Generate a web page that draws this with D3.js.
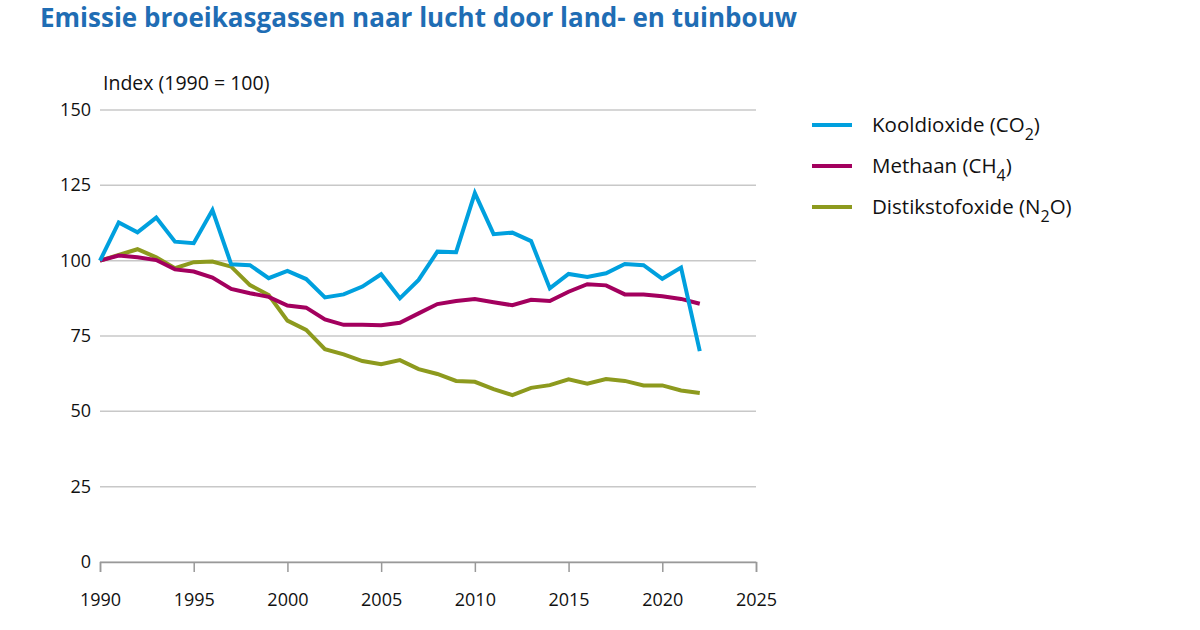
<!DOCTYPE html>
<html>
<head>
<meta charset="utf-8">
<script src="https://cdn.jsdelivr.net/npm/d3@7/dist/d3.min.js"></script>
<style>
  body { margin: 0; background: #fff; }
  text { font-family: "Open Sans", Lato, sans-serif; }
</style>
</head>
<body>
<script>
var width = 1200;
var height = 630;

// years 1990 - 2022
var years = d3.range(1990, 2023);

var co2 = [100, 112.7, 109.4, 114.3, 106.3, 105.8, 116.8, 98.8, 98.5, 94.2,
  96.6, 93.9, 87.8, 88.8, 91.4, 95.5, 87.5, 93.6, 103, 102.8,
  122.4, 108.8, 109.3, 106.5, 90.8, 95.6, 94.6, 95.8, 98.9, 98.5,
  94, 97.7, 70];

var ch4 = [100, 101.7, 101.1, 100.2, 97.1, 96.4, 94.4, 90.6, 89.2, 88,
  85.1, 84.4, 80.5, 78.7, 78.7, 78.6, 79.4, 82.5, 85.6, 86.6,
  87.3, 86.2, 85.2, 87, 86.6, 89.7, 92.2, 91.8, 88.8, 88.8,
  88.2, 87.3, 85.7];

var n2o = [100, 101.9, 103.8, 101.1, 97.5, 99.5, 99.7, 98, 91.9, 88.6,
  80.1, 77, 70.6, 68.9, 66.7, 65.6, 67, 64, 62.4, 60.1,
  59.8, 57.4, 55.4, 57.8, 58.7, 60.6, 59.2, 60.7, 60.1, 58.6,
  58.6, 56.9, 56.1];

var yTicks = [0, 25, 50, 75, 100, 125, 150];
var xTicks = [1990, 1995, 2000, 2005, 2010, 2015, 2020, 2025];

var series = [
  { name: 'Kooldioxide (CO', sub: '2', tail: ')', color: '#00a0de', values: co2 },
  { name: 'Methaan (CH', sub: '4', tail: ')', color: '#a3005e', values: ch4 },
  { name: 'Distikstofoxide (N', sub: '2', tail: 'O)', color: '#8d9a1e', values: n2o }
];

var svg = d3.select('body').append('svg')
  .attr('width', width)
  .attr('height', height);

var x = d3.scaleLinear().domain([1990, 2025]).range([100, 756]);
var y = d3.scaleLinear().domain([0, 150]).range([562, 110]);

svg.append('text')
  .attr('x', 40)
  .attr('y', 27)
  .attr('fill', '#1f6db4')
  .attr('font-size', 26)
  .attr('font-weight', 'bold')
  .attr('textLength', 757)
  .attr('lengthAdjust', 'spacing')
  .text('Emissie broeikasgassen naar lucht door land- en tuinbouw');

svg.append('text')
  .attr('x', 103)
  .attr('y', 90)
  .attr('font-size', 19.5)
  .attr('fill', '#111')
  .text('Index (1990 = 100)');

// gridlines
svg.selectAll('.grid')
  .data(yTicks)
  .enter().append('line')
  .attr('x1', 100)
  .attr('x2', 756)
  .attr('y1', function(d) { return y(d); })
  .attr('y2', function(d) { return y(d); })
  .attr('stroke', '#c8c8c8')
  .attr('stroke-width', 1.5);

svg.selectAll('.ylab')
  .data(yTicks)
  .enter().append('text')
  .attr('x', 91)
  .attr('y', function(d) { return y(d) + 6; })
  .attr('text-anchor', 'end')
  .attr('font-size', 18)
  .attr('fill', '#111')
  .text(function(d) { return d; });

// x axis
var xAxis = svg.append('g')
  .attr('transform', 'translate(0,' + y(0) + ')')
  .call(d3.axisBottom(x).tickValues(xTicks).tickFormat(d3.format('d')).tickSize(10).tickPadding(21));

xAxis.select('.domain').attr('stroke', '#999').attr('stroke-width', 1.5);
xAxis.selectAll('.tick line').attr('stroke', '#999').attr('stroke-width', 1.5);
xAxis.selectAll('.tick text')
  .attr('font-size', 18)
  .attr('fill', '#111')
  .attr('font-family', '"Open Sans", Lato, sans-serif');

var line = d3.line()
  .x(function(d, i) { return x(years[i]); })
  .y(function(d) { return y(d); });

// draw N2O first, then CH4, then CO2 on top
series.slice().reverse().forEach(function(s) {
  svg.append('path')
    .datum(s.values)
    .attr('d', line)
    .attr('fill', 'none')
    .attr('stroke', s.color)
    .attr('stroke-width', 4)
    .attr('stroke-linejoin', 'miter');
});

// legend
var legend = svg.append('g');
series.forEach(function(s, i) {
  var ly = 125 + i * 41;
  legend.append('line')
    .attr('x1', 812).attr('x2', 852)
    .attr('y1', ly).attr('y2', ly)
    .attr('stroke', s.color)
    .attr('stroke-width', 4);
  var t = legend.append('text')
    .attr('x', 872)
    .attr('y', ly + 7)
    .attr('font-size', 20.5)
    .attr('fill', '#111');
  t.append('tspan').text(s.name);
  t.append('tspan').attr('dy', 8).attr('font-size', 16).text(s.sub);
  t.append('tspan').attr('dy', -8).text(s.tail);
});
</script>
</body>
</html>
